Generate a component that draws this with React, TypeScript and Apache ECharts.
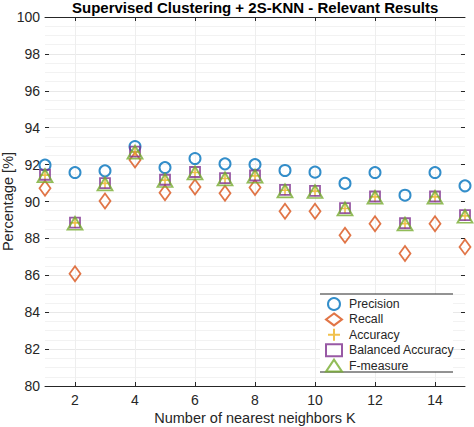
import React, { useEffect, useRef } from "react";
import * as echarts from "echarts";

const K = [1, 2, 3, 4, 5, 6, 7, 8, 9, 10, 11, 12, 13, 14, 15];
const precision = [91.97, 91.57, 91.66, 92.98, 91.84, 92.33, 92.04, 92.0, 91.68, 91.59, 90.98, 91.57, 90.34, 91.57, 90.85];
const recall = [90.72, 86.09, 90.03, 92.25, 90.47, 90.79, 90.45, 90.76, 89.47, 89.47, 88.17, 88.8, 87.18, 88.8, 87.54];
const accuracy = [91.43, 88.84, 90.98, 92.69, 91.16, 91.57, 91.25, 91.39, 90.61, 90.56, 89.62, 90.25, 88.8, 90.25, 89.22];
const balancedAccuracy = [91.45, 88.86, 91.0, 92.7, 91.18, 91.6, 91.27, 91.41, 90.63, 90.58, 89.64, 90.27, 88.82, 90.27, 89.26];
const fMeasure = [91.4, 88.82, 90.96, 92.68, 91.14, 91.55, 91.23, 91.37, 90.58, 90.54, 89.6, 90.23, 88.78, 90.23, 89.2];
const xTicks = [2, 4, 6, 8, 10, 12, 14];

const FONT = "'Liberation Sans', Arial, Helvetica, sans-serif";
const AX = "#262626";

export default function App() {
  const ref = useRef<HTMLDivElement>(null);
  useEffect(() => {
    document.body.style.margin = "0";
    const chart = echarts.init(ref.current!, null, { renderer: "svg" });
    const pts = (arr: number[]) => K.map((k, i) => [k, arr[i]]);
    const mk = (name: string, arr: number[], symbol: string, size: any, color: string, bw: number) => ({
      name,
      type: "scatter",
      data: pts(arr),
      symbol,
      symbolSize: size,
      itemStyle: { color: "rgba(255,255,255,0)", borderColor: color, borderWidth: bw },
      emphasis: { disabled: true },
      z: 3,
    });
    chart.setOption({
      animation: false,
      textStyle: { fontFamily: FONT },
      title: {
        text: "Supervised Clustering + 2S-KNN - Relevant Results",
        left: 72,
        top: 0,
        padding: 0,
        textStyle: { fontFamily: FONT, fontSize: 15, fontWeight: "bold", color: "#000", lineHeight: 15 },
      },
      grid: { left: 45, right: 9, top: 17, bottom: 41, containLabel: false, outerBoundsMode: "none" },
      xAxis: [
        {
          type: "value",
          min: 1,
          max: 15,
          interval: 0.5,
          position: "bottom",
          name: "Number of nearest neighbors K",
          nameLocation: "middle",
          nameGap: 24,
          nameMoveOverlap: false,
          nameTextStyle: { fontFamily: FONT, fontSize: 14.5, color: AX },
          axisLine: { show: true, lineStyle: { color: AX, width: 1 } },
          axisTick: { show: true, inside: true, length: 4, customValues: xTicks, lineStyle: { color: AX } },
          axisLabel: { customValues: xTicks, fontSize: 14, color: AX, margin: 7, fontFamily: FONT },
          splitLine: { show: true, lineStyle: { color: "#eeeeee", width: 1 } },
        },
        {
          type: "value",
          min: 1,
          max: 15,
          interval: 0.5,
          position: "top",
          axisLine: { show: true, lineStyle: { color: AX, width: 1 } },
          axisTick: { show: true, inside: true, length: 4, customValues: xTicks, lineStyle: { color: AX } },
          axisLabel: { show: false },
          splitLine: { show: false },
        },
      ],
      yAxis: [
        {
          type: "value",
          min: 80,
          max: 100,
          interval: 2,
          name: "Percentage [%]",
          nameLocation: "middle",
          nameGap: 30,
          nameMoveOverlap: false,
          nameTextStyle: { fontFamily: FONT, fontSize: 14.5, color: AX },
          axisLine: { show: false },
          axisTick: { show: true, inside: true, length: 4, lineStyle: { color: AX } },
          axisLabel: { fontSize: 14, color: AX, margin: 5, fontFamily: FONT },
          splitLine: { show: true, lineStyle: { color: "#e8e8e8", width: 1 } },
          minorTick: { show: false, splitNumber: 4 },
          minorSplitLine: { show: true, lineStyle: { color: "#f2f2f2", width: 1 } },
        },
        {
          type: "value",
          min: 80,
          max: 100,
          interval: 2,
          position: "right",
          axisLine: { show: false },
          axisTick: { show: true, inside: true, length: 4, lineStyle: { color: AX } },
          axisLabel: { show: false },
          splitLine: { show: false },
        },
      ],
      legend: {
        orient: "vertical",
        left: 325,
        top: 297,
        padding: 0,
        itemGap: 1.4,
        itemWidth: 16,
        itemHeight: 12,
        textStyle: { fontFamily: FONT, fontSize: 12.3, lineHeight: 12, color: AX, padding: [0, 0, 0, 2] },
        data: ["Precision", "Recall", "Accuracy", "Balanced Accuracy", "F-measure"],
        z: 10,
      },
      graphic: [
        { type: "rect", shape: { x: 320, y: 294, width: 133, height: 78 }, style: { fill: "#fff" }, z: 5 },
        { type: "line", shape: { x1: 320, y1: 294, x2: 453, y2: 294 }, style: { stroke: AX, lineWidth: 1 }, z: 6 },
        { type: "line", shape: { x1: 320, y1: 372, x2: 453, y2: 372 }, style: { stroke: AX, lineWidth: 1 }, z: 6 },
      ],
      series: [
        mk("Precision", precision, "circle", 11, "#0072BD", 2),
        mk("Recall", recall, "diamond", [11, 15], "#D95319", 1.8),
        mk("Accuracy", accuracy, "path://M5 0 L5 10 M0 5 L10 5", 10, "#EDB120", 1.6),
        mk("Balanced Accuracy", balancedAccuracy, "rect", 10, "#7E2F8E", 1.8),
        mk("F-measure", fMeasure, "triangle", [15, 13], "#77AC30", 1.8),
      ],
    });
    return () => chart.dispose();
  }, []);
  return <div ref={ref} style={{ width: 474, height: 427 }} />;
}
